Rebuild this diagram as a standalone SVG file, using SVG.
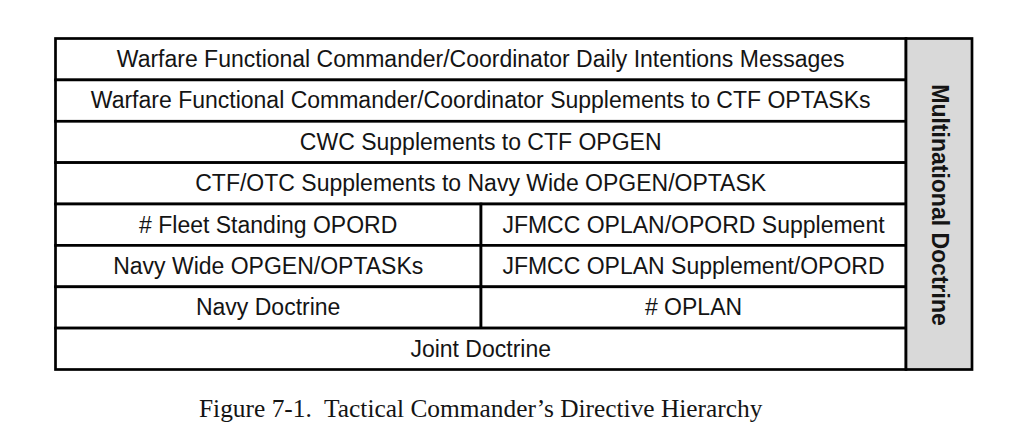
<svg xmlns="http://www.w3.org/2000/svg" width="1028" height="437" viewBox="0 0 1028 437">
<style>
.cell{fill:#ffffff;stroke:#000000;stroke-width:2.7}
.side{fill:#d9d9d9;stroke:#000000;stroke-width:2.7}
.t{font-family:"Liberation Sans",Arial,sans-serif;font-size:23px;fill:#141414;text-anchor:middle}
.vt{font-family:"Liberation Sans",Arial,sans-serif;font-size:23px;font-weight:bold;fill:#141414;text-anchor:middle}
.cap{font-family:"Liberation Serif","Times New Roman",serif;font-size:25.4px;fill:#141414;white-space:pre}
</style>
<rect width="1028" height="437" fill="#ffffff"/>
<g id="row1"><rect class="cell" x="55.5" y="38.5" width="850.5" height="41.4"/><text class="t" x="480.7" y="67">Warfare Functional Commander/Coordinator Daily Intentions Messages</text></g>
<g id="row2"><rect class="cell" x="55.5" y="79.9" width="850.5" height="41.4"/><text class="t" x="480.7" y="108.4">Warfare Functional Commander/Coordinator Supplements to CTF OPTASKs</text></g>
<g id="row3"><rect class="cell" x="55.5" y="121.3" width="850.5" height="41.3"/><text class="t" x="480.7" y="149.8">CWC Supplements to CTF OPGEN</text></g>
<g id="row4"><rect class="cell" x="55.5" y="162.6" width="850.5" height="41.4"/><text class="t" x="480.7" y="191.1">CTF/OTC Supplements to Navy Wide OPGEN/OPTASK</text></g>
<g id="row5l"><rect class="cell" x="55.5" y="204" width="425.5" height="41.4"/><text class="t" x="268.2" y="232.5"># Fleet Standing OPORD</text></g>
<g id="row5r"><rect class="cell" x="481" y="204" width="425" height="41.4"/><text class="t" x="693.5" y="232.5">JFMCC OPLAN/OPORD Supplement</text></g>
<g id="row6l"><rect class="cell" x="55.5" y="245.4" width="425.5" height="41.4"/><text class="t" x="268.2" y="273.9">Navy Wide OPGEN/OPTASKs</text></g>
<g id="row6r"><rect class="cell" x="481" y="245.4" width="425" height="41.4"/><text class="t" x="693.5" y="273.9">JFMCC OPLAN Supplement/OPORD</text></g>
<g id="row7l"><rect class="cell" x="55.5" y="286.8" width="425.5" height="41.3"/><text class="t" x="268.2" y="315.3">Navy Doctrine</text></g>
<g id="row7r"><rect class="cell" x="481" y="286.8" width="425" height="41.3"/><text class="t" x="693.5" y="315.3"># OPLAN</text></g>
<g id="row8"><rect class="cell" x="55.5" y="328.1" width="850.5" height="41.4"/><text class="t" x="480.7" y="356.6">Joint Doctrine</text></g>
<g id="multinational"><rect class="side" x="906" y="38.5" width="66" height="331"/><text class="vt" transform="translate(932,205) rotate(90)">Multinational Doctrine</text></g>
<g id="connectors"/>
<text class="cap" x="199" y="416.5">Figure 7-1.  Tactical Commander’s Directive Hierarchy</text>
</svg>
